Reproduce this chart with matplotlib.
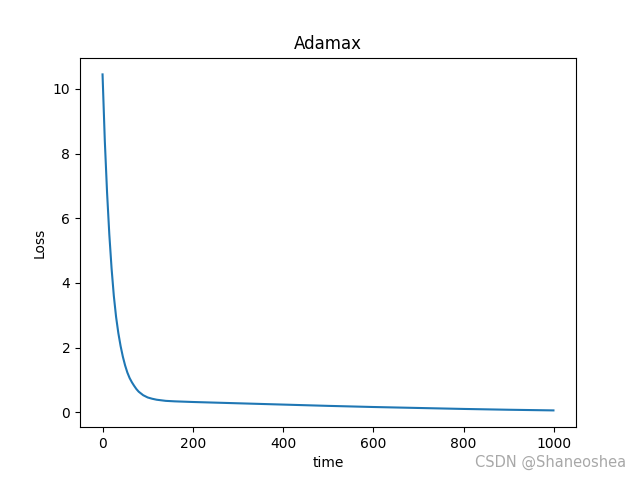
import matplotlib
matplotlib.use("Agg")
import matplotlib.pyplot as plt

# values
time = [0, 5, 10, 15, 20, 25, 30, 35, 40, 45, 50, 55, 60, 65, 70, 75, 80,
        90, 100, 110, 120, 140, 160, 200, 300, 400, 500, 600, 700, 800,
        900, 999]
loss = [10.45, 8.4, 6.8, 5.5, 4.45, 3.6, 2.95, 2.45, 2.05, 1.72, 1.45,
        1.23, 1.06, 0.93, 0.82, 0.72, 0.64, 0.53, 0.46, 0.42, 0.39, 0.355,
        0.34, 0.32, 0.28, 0.24, 0.20, 0.165, 0.135, 0.105, 0.08, 0.06]

fig = plt.figure(figsize=(6.4, 4.8), dpi=100)
plt.plot(time, loss)
plt.title("Adamax")
plt.xlabel("time")
plt.ylabel("Loss")

fig.text(0.978, 0.02, "CSDN @Shaneoshea", color="#a8a8a8", fontsize=10.5,
         ha="right", va="bottom")

plt.savefig("out.png")
